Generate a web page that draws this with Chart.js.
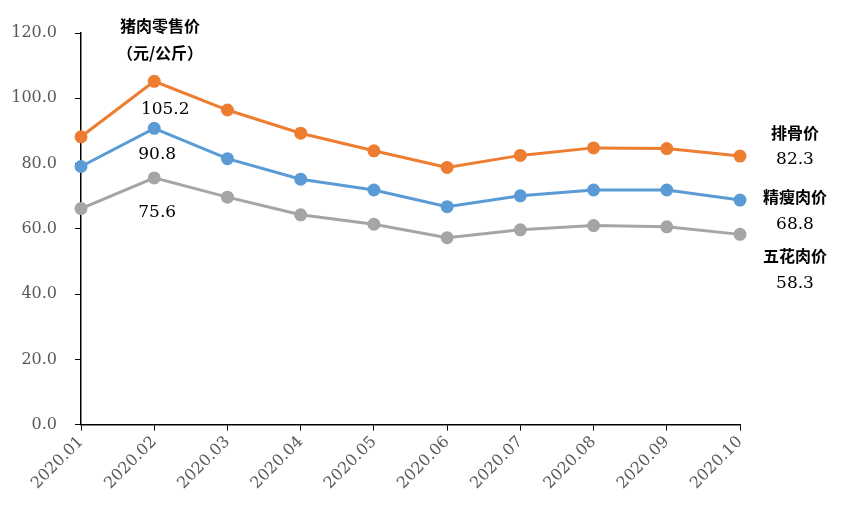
<!DOCTYPE html>
<html>
<head>
<meta charset="utf-8">
<script src="https://cdn.jsdelivr.net/npm/chart.js@4"></script>
<style>
  html, body { margin: 0; padding: 0; background: #fff; }
  #wrap { width: 860px; height: 510px; }
</style>
</head>
<body>
<div id="wrap"><canvas id="c" width="860" height="510"></canvas></div>
<script>
const months = ["2020.01", "2020.02", "2020.03", "2020.04", "2020.05", "2020.06", "2020.07", "2020.08", "2020.09", "2020.10"];
const ribs = [88.2, 105.2, 96.4, 89.3, 83.9, 78.8, 82.5, 84.8, 84.6, 82.3];
const lean = [79.1, 90.8, 81.5, 75.2, 71.9, 66.8, 70.1, 71.9, 71.9, 68.8];
const belly = [66.2, 75.6, 69.7, 64.3, 61.4, 57.3, 59.7, 61.0, 60.6, 58.3];
const seriesNames = ["排骨价", "精瘦肉价", "五花肉价"];

const serif = "'DejaVu Serif', 'Noto Sans CJK SC', serif";
const cjk = "'Noto Sans CJK SC', 'DejaVu Serif', serif";

// text labels drawn next to the points
const labelPlugin = {
  id: 'labels',
  afterDatasetsDraw(chart) {
    const ctx = chart.ctx;
    const x = chart.scales.x, y = chart.scales.y;
    ctx.save();
    ctx.fillStyle = '#000';
    ctx.textAlign = 'center';
    ctx.textBaseline = 'middle';

    // Feb values under the peak
    ctx.font = "17px " + serif;
    const fx = x.getPixelForValue(1);
    ctx.fillText(ribs[1].toFixed(1), fx + 11, y.getPixelForValue(ribs[1]) + 28);
    ctx.fillText(lean[1].toFixed(1), fx + 3, y.getPixelForValue(lean[1]) + 26);
    ctx.fillText(belly[1].toFixed(1), fx + 3, y.getPixelForValue(belly[1]) + 35);

    // end labels
    const last = months.length - 1;
    const ex = x.getPixelForValue(last) + 55;
    const ends = [[ribs, -23], [lean, -3], [belly, 22]];
    ends.forEach((e, i) => {
      const py = y.getPixelForValue(e[0][last]);
      ctx.font = "bold 16px " + cjk;
      ctx.fillText(seriesNames[i], ex, py + e[1]);
      ctx.font = "17px " + serif;
      ctx.fillText(e[0][last].toFixed(1), ex, py + e[1] + 27);
    });

    // unit title
    ctx.font = "bold 16px " + cjk;
    ctx.fillText("猪肉零售价", chart.chartArea.left + 79, chart.chartArea.top - 7);
    ctx.fillText("（元/公斤）", chart.chartArea.left + 79, chart.chartArea.top + 20);
    ctx.restore();
  }
};

const ds = (label, data, color) => ({
  label: label,
  data: data,
  borderColor: color,
  backgroundColor: color,
  pointBackgroundColor: color,
  pointBorderColor: color,
  borderWidth: 3,
  pointRadius: 5,
  tension: 0
});

new Chart(document.getElementById('c').getContext('2d'), {
  type: 'line',
  data: {
    labels: months,
    datasets: [
      ds(seriesNames[0], ribs, '#ED7D31'),
      ds(seriesNames[1], lean, '#5B9BD5'),
      ds(seriesNames[2], belly, '#A5A5A5')
    ]
  },
  options: {
    responsive: false,
    animation: false,
    layout: { padding: { left: 3, right: 120, top: 33, bottom: 15 } },
    plugins: { legend: { display: false }, tooltip: { enabled: false } },
    scales: {
      x: {
        offset: false,
        afterFit: s => { s.paddingLeft = 0; },
        grid: { display: true, drawOnChartArea: false, drawTicks: true, tickLength: 6, tickColor: '#000' },
        border: { color: '#000', width: 1.5 },
        ticks: { color: '#595959', font: { family: serif, size: 16 }, maxRotation: 45, minRotation: 45, padding: 2 }
      },
      y: {
        min: 0, max: 120,
        afterFit: s => { s.width = 78; },
        grid: { display: true, drawOnChartArea: false, drawTicks: true, tickLength: 6, tickColor: '#000' },
        border: { color: '#000', width: 1.5 },
        ticks: { stepSize: 20, color: '#595959', font: { family: serif, size: 16 }, padding: 18,
          callback: v => v.toFixed(1) }
      }
    }
  },
  plugins: [labelPlugin]
});
</script>
</body>
</html>
